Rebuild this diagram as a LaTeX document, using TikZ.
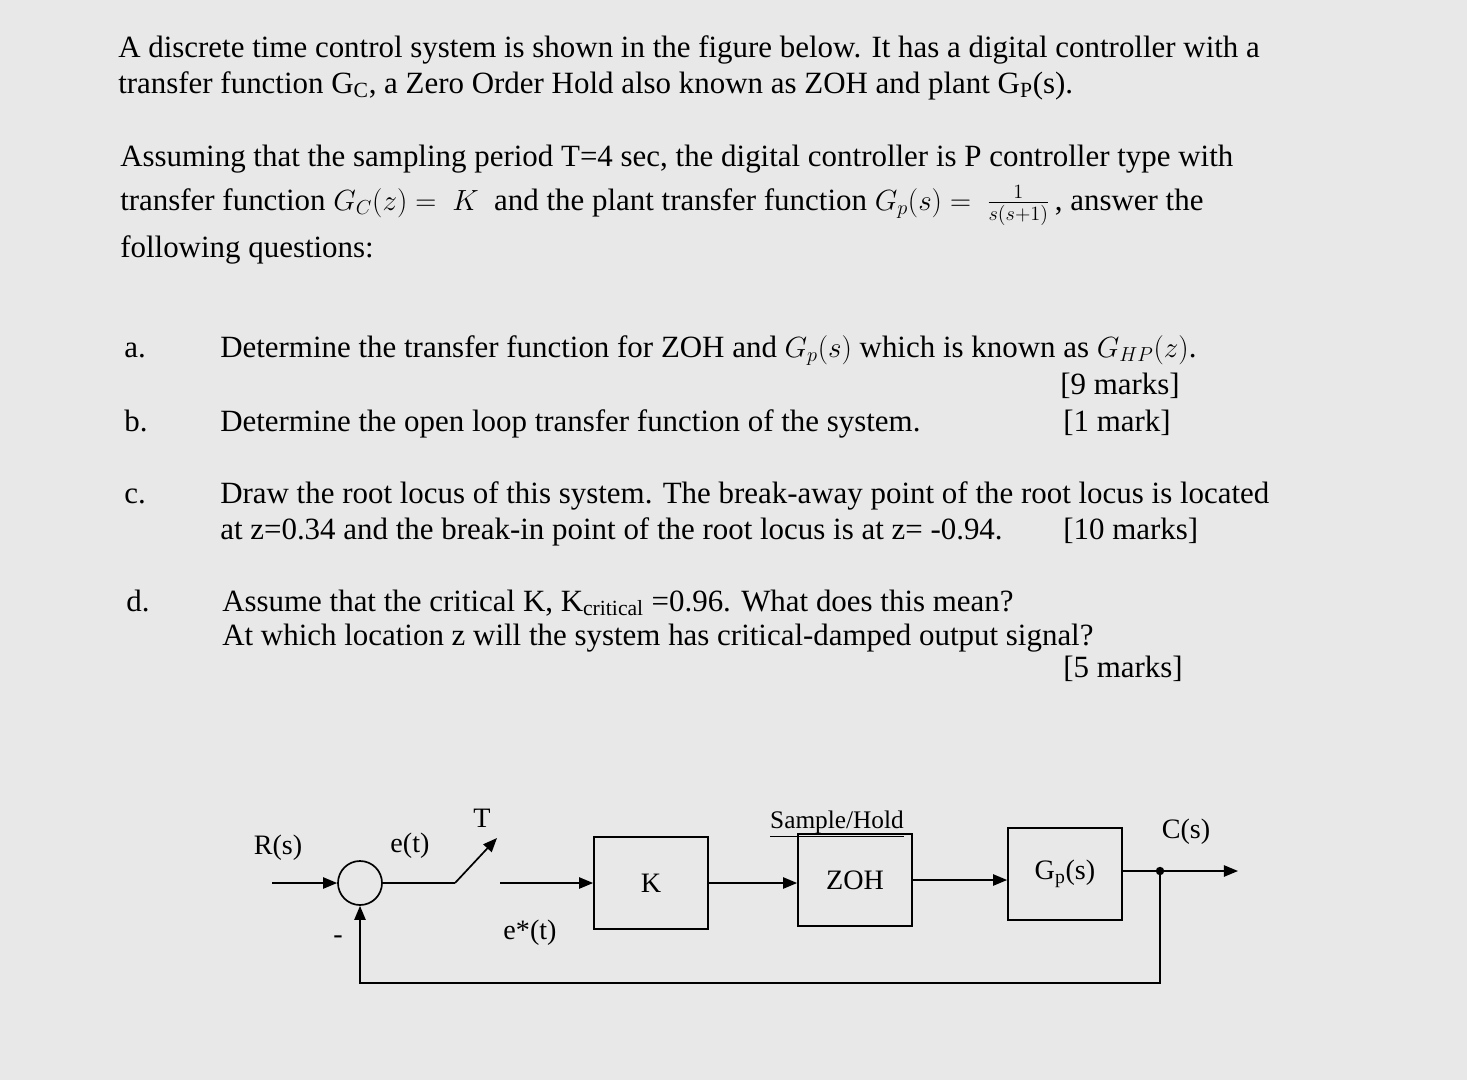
\documentclass[tikz,border=0pt]{standalone}
\usepackage{fontspec}
\setmainfont{Liberation Serif}
\usetikzlibrary{arrows.meta}
\begin{document}
\begin{tikzpicture}[x=0.025cm,y=-0.025cm,
  txt/.style={anchor=base west,inner sep=0pt,font=\fontsize{22}{26}\selectfont},
  dtxt/.style={inner sep=0pt,font=\fontsize{20}{24}\selectfont},
  blk/.style={draw,line width=1.2pt,minimum width=2.85cm,minimum height=2.3cm,font=\fontsize{20}{24}\selectfont},
  sig/.style={line width=1.2pt,-{Triangle[length=10pt,width=8pt]}},
  ln/.style={line width=1.2pt}]
\fill[black!9] (0,0) rectangle (1467,1080);
\useasboundingbox (0,0) rectangle (1467,1080);
% text
\node[txt] (l1) at (118,57) {A discrete time control system is shown in the figure below. It has a digital controller with a};
\node[txt] (l2) at (118,93) {transfer function G\textsubscript{C}, a Zero Order Hold also known as ZOH and plant G\textsubscript{P}(s).};
\node[txt] (l3) at (120,166) {Assuming that the sampling period T=4 sec, the digital controller is P controller type with};
\node[txt] (l4) at (120,210) {transfer function $G_C(z) = \ K$ \ and the plant transfer function $G_p(s) = \ \frac{1}{s(s+1)}$\,, answer the};
\node[txt] (l5) at (120,257) {following questions:};
\node[txt] (qa) at (124,357) {a.};
\node[txt] (qat) at (220,357) {Determine the transfer function for ZOH and $G_p(s)$ which is known as $G_{HP}(z)$.};
\node[txt,anchor=base east] (qam) at (1180,394) {[9 marks]};
\node[txt] (qb) at (124,431) {b.};
\node[txt] (qbt) at (220,431) {Determine the open loop transfer function of the system.};
\node[txt] (qbm) at (1063,431) {[1 mark]};
\node[txt] (qc) at (124,503) {c.};
\node[txt] (qct) at (220,503) {Draw the root locus of this system. The break-away point of the root locus is located};
\node[txt] (qct2) at (220,539) {at z=0.34 and the break-in point of the root locus is at z= -0.94.};
\node[txt] (qcm) at (1063,539) {[10 marks]};
\node[txt] (qd) at (126,611) {d.};
\node[txt] (qdt) at (222,611) {Assume that the critical K, K\textsubscript{critical} =0.96. What does this mean?};
\node[txt] (qdt2) at (222,645) {At which location z will the system has critical-damped output signal?};
\node[txt] (qdm) at (1063,677) {[5 marks]};
% diagram
\node[draw,circle,line width=1.2pt,minimum size=1.1cm,inner sep=0pt] (sum) at (360,883) {};
\coordinate (in) at (272,883);
\node[blk] (K) at (651,883) {K};
\node[blk] (Z) at (855,880) {ZOH};
\node[blk] (G) at (1065,874) {G\textsubscript{p}(s)};
\coordinate (sw1) at (455,883);
\coordinate (sw2) at (497,838);
\coordinate (sw3) at (500,883);
\coordinate (br) at (1160,871);
\coordinate (out) at (1238,871);
\coordinate (fb1) at (1160,983);
\coordinate (fb2) at (360,983);
\draw[sig] (in) -- (sum);
\draw[ln] (sum) -- (sw1);
\draw[sig] (sw1) -- (sw2);
\draw[sig] (sw3) -- (K.west);
\draw[sig] (K.east) -- (Z.west |- K.east);
\draw[sig] (Z.east |- 0,880) -- (G.west |- 0,880);
\draw[line width=2pt] (G.east |- br) -- (br);
\draw[sig] (br) -- (out);
\fill (br) circle (3pt);
\draw[sig] (br) -- (fb1) -- (fb2) -- (sum.south);
\node[dtxt] (Rl) at (278,848) {R(s)};
\node[dtxt] (el) at (410,846) {e(t)};
\node[dtxt] (Tl) at (482,818) {T};
\node[dtxt] (esl) at (530,933) {e*(t)};
\node[dtxt] (mi) at (338,940) {-};
\node[dtxt] (Cl) at (1186,832) {C(s)};
\node[dtxt,font=\fontsize{18}{20}\selectfont] (SH) at (837,824) {\underline{Sample/Hold}};
\end{tikzpicture}
\end{document}
